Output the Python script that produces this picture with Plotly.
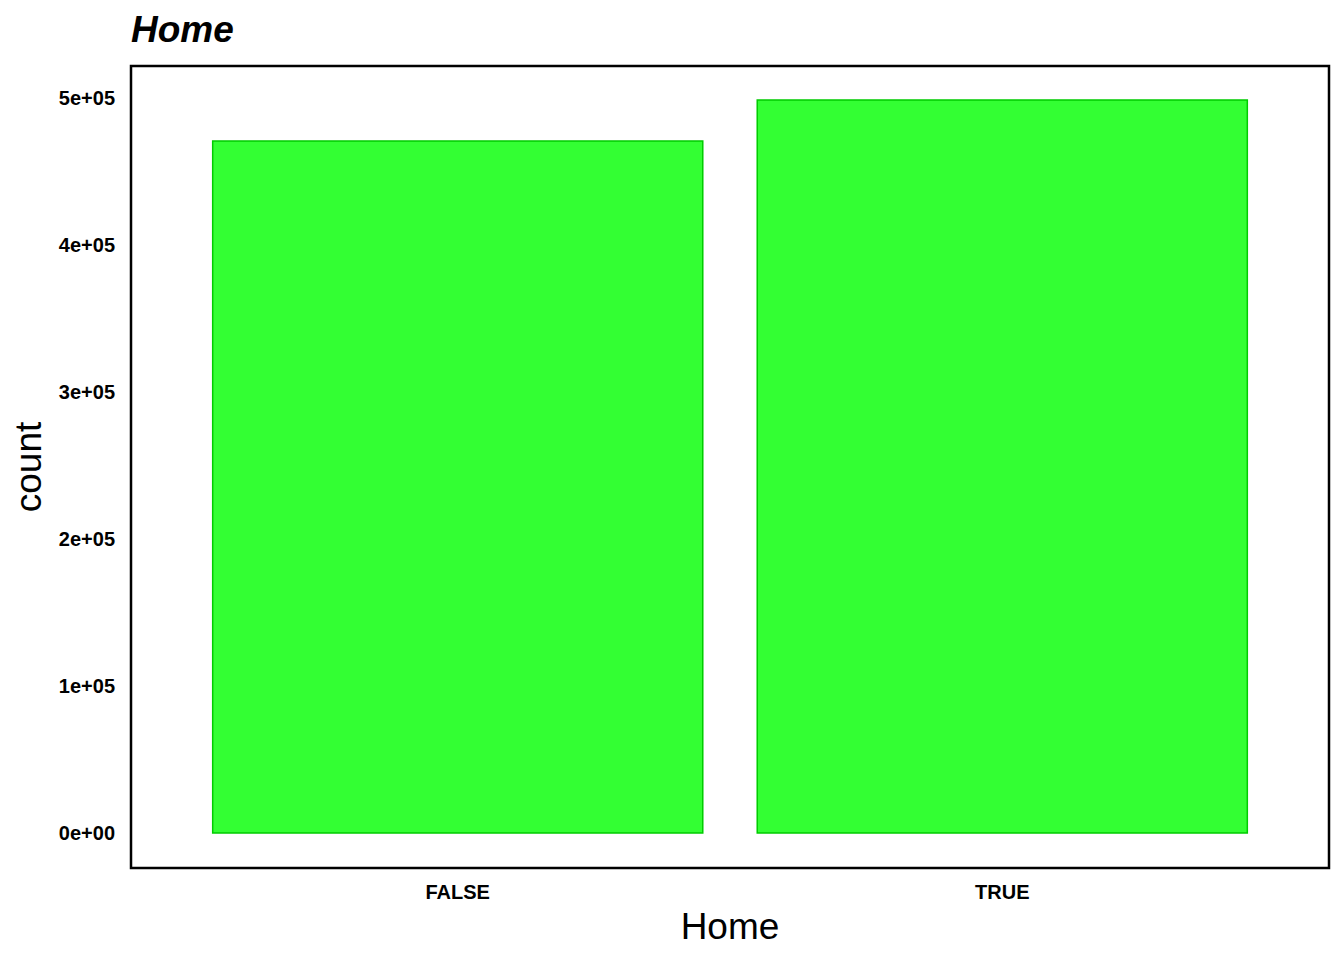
import plotly.graph_objects as go

categories = ["FALSE", "TRUE"]
counts = [470700, 498600]
ytick_vals = [0, 100000, 200000, 300000, 400000, 500000]
ytick_text = ["0e+00", "1e+05", "2e+05", "3e+05", "4e+05", "5e+05"]

FONT = "Liberation Sans, Arial, sans-serif"
W, H = 1328, 944  # page body has 8px margin

fig = go.Figure()
fig.add_trace(go.Bar(
    x=[0, 1], y=counts, width=0.9,
    marker=dict(color="#33FF33", line=dict(color="#00CC00", width=1.5)),
    showlegend=False,
))

fig.update_layout(
    width=W, height=H,
    margin=dict(l=123, r=7, t=58, b=84),
    paper_bgcolor="white", plot_bgcolor="white",
    font=dict(family=FONT, color="black"),
    title=dict(text="<b><i>Home</i></b>", x=123/W, xanchor="left",
               y=1-21/H, yanchor="middle", font=dict(size=37, color="black")),
)
fig.update_xaxes(
    range=[-0.6, 1.6], tickmode="array", tickvals=[0, 1], ticktext=categories,
    showgrid=False, zeroline=False, showline=False, ticks="",
    tickfont=dict(size=20, color="black", family=FONT, weight="bold"),
    ticklabelstandoff=10,
    title=dict(text="Home", font=dict(size=37, color="black"), standoff=11),
)
fig.update_yaxes(
    range=[-23810, 521769], tickmode="array",
    tickvals=ytick_vals, ticktext=ytick_text,
    showgrid=False, zeroline=False, showline=False, ticks="",
    tickfont=dict(size=20, color="black", family=FONT, weight="bold"),
    ticklabelstandoff=15,
    title=dict(text="count", font=dict(size=37, color="black"), standoff=6),
)
fig.add_shape(type="rect", xref="paper", yref="paper", x0=0, x1=1, y0=0, y1=1,
              line=dict(color="black", width=2.5), fillcolor="rgba(0,0,0,0)", layer="above")

fig.write_html("out.html")
